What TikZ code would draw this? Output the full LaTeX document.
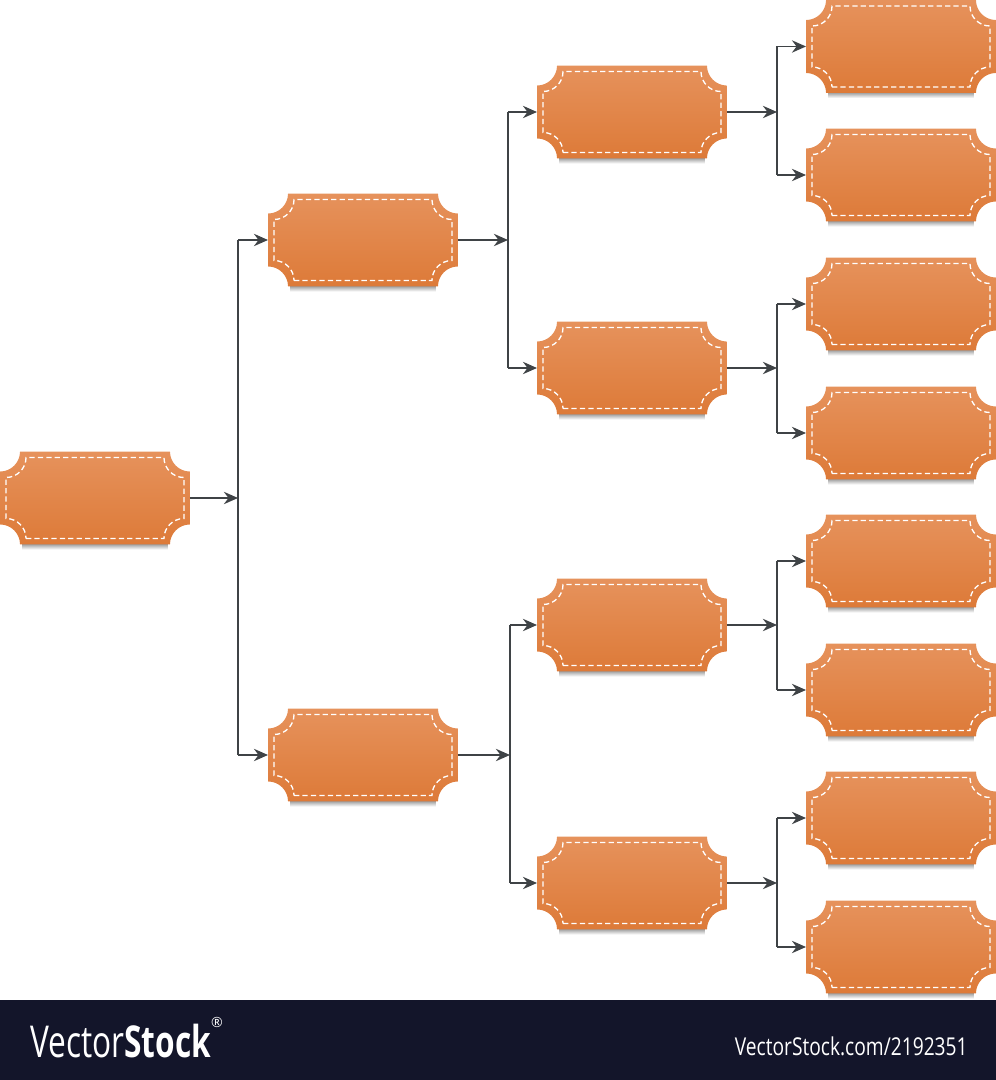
\documentclass[tikz,border=0pt]{standalone}
\usepackage{fontspec}
\setmainfont{Open Sans}
\usetikzlibrary{arrows.meta,calc,backgrounds}
\definecolor{tagtop}{HTML}{E6925C}
\definecolor{tagbot}{HTML}{DD7A38}
\definecolor{wire}{HTML}{3F4346}
\definecolor{strip}{HTML}{13152A}
\tikzset{
  tagpath/.style 2 args={insert path={let \p1=($(sw)+(#1,#1)$), \p2=($(ne)-(#1,#1)$) in
    (\x1+#2,\y1) -- (\x2-#2,\y1) arc[start angle=180,end angle=90,radius=#2]
    -- (\x2,\y2-#2) arc[start angle=270,end angle=180,radius=#2]
    -- (\x1+#2,\y2) arc[start angle=0,end angle=-90,radius=#2]
    -- (\x1,\y1+#2) arc[start angle=90,end angle=0,radius=#2] -- cycle}},
  tag/.style={minimum width=3.8cm,minimum height=1.86cm,inner sep=0pt,outer sep=0pt,
    path picture={
      \coordinate (sw) at (path picture bounding box.south west);
      \coordinate (ne) at (path picture bounding box.north east);
      \shade[top color=tagtop,bottom color=tagbot] [tagpath={0pt}{11.4pt}];
      \draw[white,line width=0.75pt,dash pattern=on 3pt off 1.8pt] [tagpath={3.4pt}{11.4pt}];
    }},
  wire/.style={draw=wire,line width=1.1pt},
  arr/.style={wire,-{Stealth[length=8pt,width=7pt]}}
}
\begin{document}
\begin{tikzpicture}[x=0.02cm,y=0.02cm]
\useasboundingbox (0,0) rectangle (996,1080);

\node (r0) at (95,582) [tag] {};

\node (a1) at (363,840) [tag] {};
\node (a2) at (363,325) [tag] {};

\node (b1) at (632,968) [tag] {};
\node (b2) at (632,712) [tag] {};
\node (b3) at (632,455) [tag] {};
\node (b4) at (632,197) [tag] {};

\node (c1) at (901,1033.5) [tag] {};
\node (c2) at (901,905) [tag] {};
\node (c3) at (901,776) [tag] {};
\node (c4) at (901,647) [tag] {};
\node (c5) at (901,519) [tag] {};
\node (c6) at (901,390) [tag] {};
\node (c7) at (901,262) [tag] {};
\node (c8) at (901,133) [tag] {};

\coordinate (j0) at (238,0);
\coordinate (j1) at (508,0);
\coordinate (j2) at (510,0);
\coordinate (j3) at (777,0);

\draw [arr] (r0.east) -- (r0.east -| j0);
\draw [wire] (a1.west -| j0) -- (a2.west -| j0);
\draw [arr] (a1.west -| j0) -- (a1.west);
\draw [arr] (a2.west -| j0) -- (a2.west);

\draw [arr] (a1.east) -- (a1.east -| j1);
\draw [wire] (b1.west -| j1) -- (b2.west -| j1);
\draw [arr] (b1.west -| j1) -- (b1.west);
\draw [arr] (b2.west -| j1) -- (b2.west);

\draw [arr] (a2.east) -- (a2.east -| j2);
\draw [wire] (b3.west -| j2) -- (b4.west -| j2);
\draw [arr] (b3.west -| j2) -- (b3.west);
\draw [arr] (b4.west -| j2) -- (b4.west);

\foreach \p/\u/\l in {b1/c1/c2,b2/c3/c4,b3/c5/c6,b4/c7/c8}{
  \draw [arr] (\p.east) -- (\p.east -| j3);
  \draw [wire] (\u.west -| j3) -- (\l.west -| j3);
  \draw [arr] (\u.west -| j3) -- (\u.west);
  \draw [arr] (\l.west -| j3) -- (\l.west);
}

\begin{scope}[on background layer]
\foreach \n in {r0,a1,a2,b1,b2,b3,b4,c1,c2,c3,c4,c5,c6,c7,c8}
  \shade [top color=black!35,bottom color=white] ([xshift=0.44cm]\n.south west) rectangle ([xshift=-0.44cm,yshift=-0.1cm]\n.south east);
\end{scope}

\fill [strip] (0,0) rectangle (996,80);
\node (logo) at (30,23) [anchor=base west,text=white,inner sep=0pt,font=\fontsize{25}{25}\selectfont]
  {\scalebox{0.72}[1]{Vector\textbf{Stock}}\raisebox{1.25ex}{\fontsize{8}{8}\selectfont\textregistered}};
\node (ref) at (968,25) [anchor=base east,text=white,inner sep=0pt,font=\fontsize{14}{14}\selectfont]
  {\scalebox{0.78}[1]{VectorStock.com/2192351}};
\end{tikzpicture}
\end{document}
